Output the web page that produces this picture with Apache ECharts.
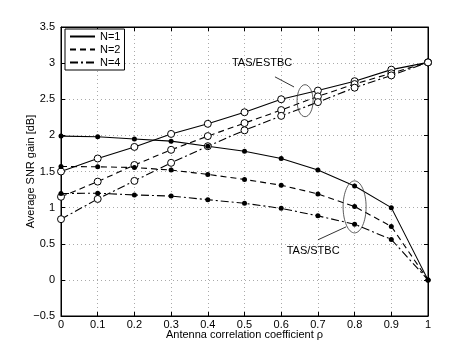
<!DOCTYPE html>
<html><head><meta charset="utf-8">
<script src="https://cdn.jsdelivr.net/npm/echarts@6/dist/echarts.min.js"></script>
<style>html,body{margin:0;padding:0;background:#fff}#c{width:474px;height:355px}</style>
</head><body><div id="c"></div>
<script>
const rho = [0, 0.1, 0.2, 0.3, 0.4, 0.5, 0.6, 0.7, 0.8, 0.9, 1];
const estbcN1 = [1.50, 1.68, 1.84, 2.02, 2.16, 2.32, 2.50, 2.62, 2.75, 2.91, 3.01];
const estbcN2 = [1.15, 1.36, 1.59, 1.80, 1.99, 2.17, 2.35, 2.54, 2.71, 2.86, 3.01];
const estbcN4 = [0.84, 1.12, 1.37, 1.62, 1.85, 2.07, 2.27, 2.46, 2.66, 2.83, 3.01];
const stbcN1 = [1.99, 1.98, 1.95, 1.92, 1.85, 1.78, 1.68, 1.52, 1.30, 1.00, 0];
const stbcN2 = [1.57, 1.565, 1.555, 1.52, 1.46, 1.39, 1.31, 1.19, 1.015, 0.74, 0];
const stbcN4 = [1.195, 1.20, 1.175, 1.16, 1.11, 1.06, 0.99, 0.886, 0.77, 0.56, 0];
const legendNames = ['N=1', 'N=2', 'N=4'];
const yTicks = [-0.5, 0, 0.5, 1, 1.5, 2, 2.5, 3, 3.5];

const FONT = 'Liberation Sans, Arial, Helvetica, sans-serif';
const styles = {
  'N=1': 'solid',
  'N=2': [6, 4],
  'N=4': [8, 3, 2, 3]
};
const pair = (arr) => rho.map((x, i) => [x, arr[i]]);

function curve(name, arr, styleKey, open) {
  return {
    name: name, type: 'line', data: pair(arr),
    symbol: 'circle', symbolSize: open ? 7 : 5,
    showSymbol: true,
    lineStyle: { color: '#000', width: 1.1, type: styles[styleKey] },
    itemStyle: open ? { color: '#fff', borderColor: '#000', borderWidth: 1 } : { color: '#000', borderColor: '#000', borderWidth: 0 },
    emphasis: { disabled: true }, animation: false, z: 3
  };
}

const chart = echarts.init(document.getElementById('c'), null, { renderer: 'canvas' });
const series = [
  ...legendNames.map(n => ({ name: n, type: 'line', data: [], symbol: 'none',
    lineStyle: { color: '#000', width: 1.1, type: styles[n] }, itemStyle: { color: '#000' } })),
  curve('ESTBC N=1', estbcN1, 'N=1', true),
  curve('ESTBC N=2', estbcN2, 'N=2', true),
  curve('ESTBC N=4', estbcN4, 'N=4', true),
  curve('STBC N=1', stbcN1, 'N=1', false),
  curve('STBC N=2', stbcN2, 'N=2', false),
  curve('STBC N=4', stbcN4, 'N=4', false),
  {
    name: 'arrows', type: 'line', data: [], symbol: 'none',
    markLine: {
      silent: true, symbol: ['none', 'arrow'], symbolSize: [0, 7], animation: false,
      label: { show: false },
      lineStyle: { color: '#000', width: 0.8, type: 'solid' },
      data: [
        [{ coord: [0.583, 2.81] }, { coord: [0.635, 2.67] }],
        [{ coord: [0.70, 0.554] }, { coord: [0.777, 0.734] }]
      ]
    }
  }
];

const axisLabel = { color: '#000', fontSize: 11, fontFamily: FONT };
chart.setOption({
  backgroundColor: '#fff',
  animation: false,
  grid: { left: 61, right: 46, top: 27, bottom: 39, show: true, borderColor: '#000', borderWidth: 1, containLabel: false },
  legend: {
    data: legendNames, orient: 'vertical', left: 65, top: 29,
    itemWidth: 25, itemHeight: 10, itemGap: 2, padding: [2, 4, 2, 4],
    backgroundColor: '#fff', borderColor: '#000', borderWidth: 1,
    itemStyle: { opacity: 0 },
    textStyle: { color: '#000', fontSize: 11, fontFamily: FONT },
    selectedMode: false
  },
  xAxis: [{
    type: 'value', min: 0, max: 1, interval: 0.1,
    name: 'Antenna correlation coefficient ρ', nameLocation: 'middle', nameGap: 13, nameMoveOverlap: false,
    nameTextStyle: { color: '#000', fontSize: 11, fontFamily: FONT, verticalAlign: 'top' },
    axisLine: { show: true, onZero: false, lineStyle: { color: '#000' } },
    axisTick: { show: true, inside: true, length: 4, lineStyle: { color: '#000' } },
    axisLabel: Object.assign({ margin: 3, formatter: v => String(Math.round(v * 10) / 10) }, axisLabel),
    splitLine: { show: true, lineStyle: { color: '#aaa', type: [1, 3], width: 1 } }
  }, {
    type: 'value', min: 0, max: 1, interval: 0.1, position: 'top',
    axisLine: { show: true, onZero: false, lineStyle: { color: '#000' } },
    axisTick: { show: true, inside: true, length: 4, lineStyle: { color: '#000' } },
    axisLabel: { show: false }, splitLine: { show: false }
  }],
  yAxis: [{
    type: 'value', min: -0.5, max: 3.5, interval: 0.5,
    name: 'Average SNR gain [dB]', nameLocation: 'middle', nameGap: 25, nameRotate: 90, nameMoveOverlap: false,
    nameTextStyle: { color: '#000', fontSize: 11, fontFamily: FONT },
    axisLine: { show: true, onZero: false, lineStyle: { color: '#000' } },
    axisTick: { show: true, inside: true, length: 4, lineStyle: { color: '#000' } },
    axisLabel: Object.assign({ margin: 6, formatter: v => (v < 0 ? '\u2212' + Math.abs(v) : String(v)) }, axisLabel),
    splitLine: { show: true, lineStyle: { color: '#aaa', type: [1, 3], width: 1 } }
  }, {
    type: 'value', min: -0.5, max: 3.5, interval: 0.5, position: 'right',
    axisLine: { show: true, onZero: false, lineStyle: { color: '#000' } },
    axisTick: { show: true, inside: true, length: 4, lineStyle: { color: '#000' } },
    axisLabel: { show: false }, splitLine: { show: false }
  }],
  series: series
});

function px(pt) { return chart.convertToPixel({ gridIndex: 0 }, pt); }
const e1 = px([0.665, 2.48]);
const e2 = px([0.80, 1.01]);
const t1 = px([0.548, 3.0]);
const t2 = px([0.687, 0.40]);
chart.setOption({
  graphic: [
    { type: 'ellipse', shape: { cx: e1[0], cy: e1[1], rx: 8, ry: 16 }, style: { fill: 'none', stroke: '#333', lineWidth: 0.8 }, z: 10 },
    { type: 'ellipse', shape: { cx: e2[0], cy: e2[1], rx: 11.5, ry: 26 }, style: { fill: 'none', stroke: '#333', lineWidth: 0.8 }, z: 10 },
    { type: 'text', x: t1[0], y: t1[1], style: { text: 'TAS/ESTBC', fill: '#000', font: '11px ' + FONT, textAlign: 'center', textVerticalAlign: 'middle' }, z: 10 },
    { type: 'text', x: t2[0], y: t2[1], style: { text: 'TAS/STBC', fill: '#000', font: '11px ' + FONT, textAlign: 'center', textVerticalAlign: 'middle' }, z: 10 }
  ]
});
</script></body></html>
